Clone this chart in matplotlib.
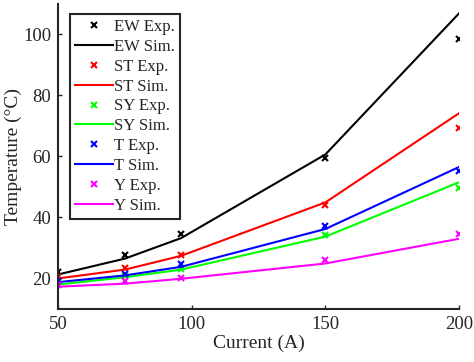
import matplotlib
matplotlib.use("Agg")
import matplotlib.pyplot as plt

current = [50, 75, 96, 150, 200]
ew_exp = [22.2, 27.8, 34.4, 59.4, 98.3]
ew_sim = [21.3, 26.5, 33.2, 60.6, 106.8]
st_exp = [20.5, 23.5, 27.6, 44.0, 69.2]
st_sim = [20.0, 22.9, 27.4, 44.9, 74.1]
sy_exp = [18.8, 20.8, 23.2, 34.3, 49.6]
sy_sim = [18.0, 20.4, 22.9, 33.7, 51.5]
t_exp = [19.3, 21.5, 24.9, 37.1, 55.3]
t_sim = [18.8, 21.0, 23.8, 36.2, 56.5]
y_exp = [17.7, 19.3, 20.2, 26.2, 34.6]
y_sim = [17.3, 18.3, 19.9, 24.9, 33.0]

series = [
    ("EW", ew_exp, ew_sim, "#000000"),
    ("ST", st_exp, st_sim, "#ff0000"),
    ("SY", sy_exp, sy_sim, "#00ff00"),
    ("T", t_exp, t_sim, "#0000ff"),
    ("Y", y_exp, y_sim, "#ff00ff"),
]

plt.rcParams['font.family'] = ['Liberation Serif', 'DejaVu Serif']
fig = plt.figure(figsize=(4.74, 3.62), dpi=100)
ax = fig.add_axes([0.1224, 0.1464, 0.846, 0.8436])

for name, exp, sim, c in series:
    ax.plot(current, exp, linestyle='none', marker='x', color=c, markersize=4.5,
            markeredgewidth=1.5, label=f"{name} Exp.")
    ax.plot(current, sim, color=c, linewidth=1.5, label=f"{name} Sim.")

ax.set_xlim(50, 200)
ax.set_ylim(10, 110)
ax.set_xticks([50, 100, 150, 200])
ax.set_yticks([20, 40, 60, 80, 100])
for s in ['top', 'right']:
    ax.spines[s].set_visible(False)
for s in ['left', 'bottom']:
    ax.spines[s].set_color('#262626')
    ax.spines[s].set_linewidth(1.5)
ax.tick_params(direction='in', length=3, width=1, colors='#262626', labelsize=13.5,
               labelcolor='#262626', pad=5)
ax.set_xlabel("Current (A)", fontsize=14, color='#262626', labelpad=1)
ax.set_ylabel("Temperature (°C)", fontsize=14, color='#262626', labelpad=1)

leg = ax.legend(loc='upper left', bbox_to_anchor=(0.03, 0.966), fontsize=12,
                frameon=True, fancybox=False, framealpha=1, edgecolor='#262626',
                handlelength=2.3, labelspacing=0.23, borderpad=0.3, handletextpad=0.05,
                borderaxespad=0)
leg.get_frame().set_linewidth(1.5)
for t in leg.get_texts():
    t.set_color('#262626')

fig.savefig("out.png", dpi=100)
